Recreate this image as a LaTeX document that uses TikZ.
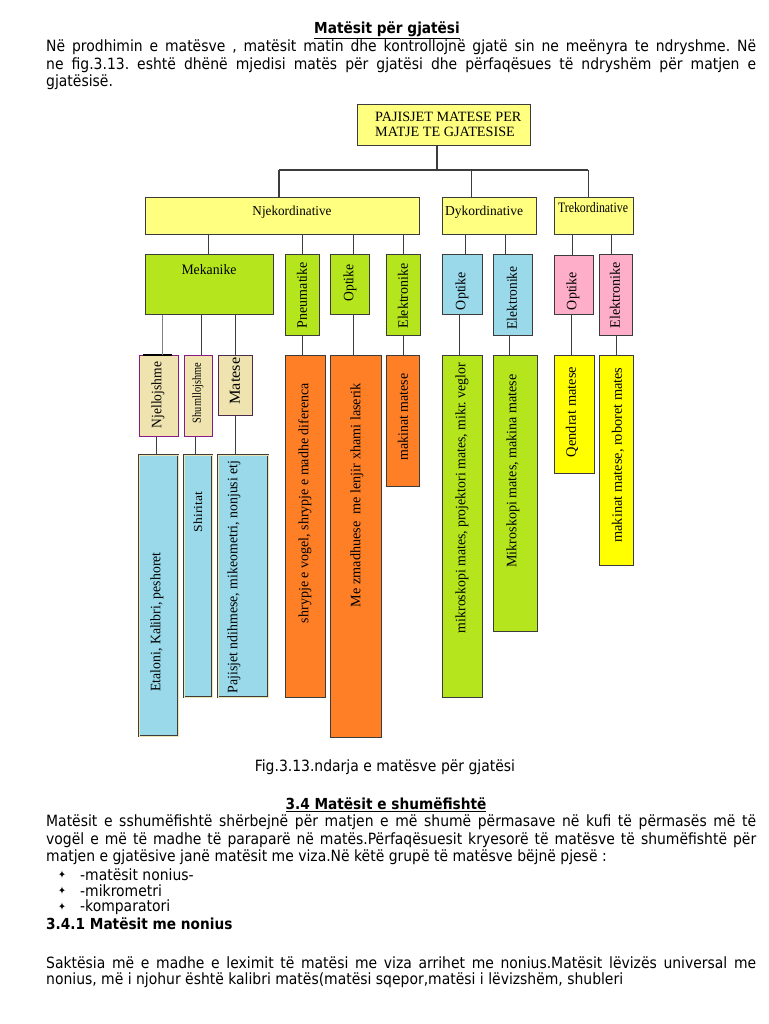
\documentclass[tikz,border=0pt]{standalone}
\usepackage{fontspec}
\setmainfont{Liberation Serif}
\newfontfamily\bodyf{DejaVu Sans Condensed}
\usepackage{graphicx}
\frenchspacing
\definecolor{lyel}{HTML}{FFFF80}
\definecolor{lgreen}{HTML}{B5E61D}
\definecolor{lblue}{HTML}{99D9EA}
\definecolor{lpink}{HTML}{FFAEC9}
\definecolor{lorange}{HTML}{FF7F27}
\definecolor{byel}{HTML}{FFFF00}
\definecolor{lbeige}{HTML}{EFE4B0}
\definecolor{bline}{HTML}{3C3C3C}
\definecolor{mline}{HTML}{8B1A89}
\definecolor{pline}{HTML}{4B2D4B}
\newcommand\bx[6]{\node[#1, minimum width=#5pt, minimum height=#6pt] (#2) at (#3,#4) {};}
\newcommand\vl[6][10]{\node[vtxt] (#2) at (#3,#4) {\resizebox{#5pt}{#1pt}{#6}};}
\newcommand\cn[4][]{\draw[conn,#1] ([xshift=#4pt]#2.north) -- ([xshift=#4pt]#2.north |- #3.south);}
\newcommand\jline[1]{\makebox[710pt][s]{#1}}
\tikzset{
  box/.style={draw=bline, line width=1.1pt, inner sep=0pt, anchor=north west},
  lybox/.style={box, fill=lyel},
  grbox/.style={box, fill=lgreen},
  blbox/.style={box, fill=lblue},
  pkbox/.style={box, fill=lpink},
  orbox/.style={box, fill=lorange},
  yebox/.style={box, fill=byel},
  bgbox/.style={box, fill=lbeige, draw=mline},
  bgbox2/.style={box, fill=lbeige, draw=pline},
  bl2box/.style={box, fill=lblue, line width=0.6pt, double=lbeige, double distance=1pt},
  conn/.style={draw=bline, line width=1.1pt},
  vtxt/.style={rotate=90, inner sep=0pt, font=\fontsize{12}{12}\selectfont},
  htxt/.style={inner sep=0pt, font=\fontsize{12.5}{13}\selectfont},
  body/.style={inner sep=0pt, anchor=west, font=\bodyf\frenchspacing\fontsize{15.5}{17}\selectfont},
  bodyc/.style={inner sep=0pt, font=\bodyf\frenchspacing\fontsize{15.5}{17}\selectfont},
  bodyb/.style={inner sep=0pt, font=\bodyf\bfseries\fontsize{15.2}{17}\selectfont},
  bullet/.style={inner sep=0pt, font=\bodyf\fontsize{10.5}{10}\selectfont}
}
\begin{document}
\begin{tikzpicture}[x=1pt,y=-1pt]
\useasboundingbox[fill=white] (0,0) rectangle (768,1024);
% ---- text above
\node[bodyb] (title) at (387,30) {\underline{Matësit për gjatësi}};
\node[body] (p1a) at (46,47) {\jline{Në prodhimin e matësve , matësit matin dhe kontrollojnë gjatë sin ne meënyra te ndryshme. Në}};
\node[body] (p1b) at (46,65) {\jline{ne fig.3.13. eshtë dhënë mjedisi matës për gjatësi dhe përfaqësues të ndryshëm për matjen e}};
\node[body] (p1c) at (46,82) {gjatësisë.};
% ---- boxes
\bx{lybox}{top}{357}{104}{173}{41}
\bx{lybox}{nj}{145}{197}{274}{37}
\bx{lybox}{dy}{442}{197}{94}{37}
\bx{lybox}{tr}{554}{197}{79}{37}
\bx{grbox}{mek}{145}{254}{128}{60}
\bx{grbox}{pn}{285}{254}{34}{81}
\bx{grbox}{opa}{330}{254}{39}{60}
\bx{grbox}{ela}{386}{254}{34}{81}
\bx{blbox}{opb}{442}{254}{40}{60}
\bx{blbox}{elb}{493}{254}{39}{81}
\bx{pkbox}{opc}{554}{255}{39}{59}
\bx{pkbox}{elc}{599}{254}{33}{81}
\bx{bgbox}{njl}{139}{355}{39}{81}
\bx{bgbox}{shl}{184}{355}{28}{81}
\bx{bgbox2}{mat}{218}{355}{34}{60}
\bx{bl2box}{eta}{139}{455}{39}{281}
\bx{bl2box}{shi}{184}{455}{28}{242}
\bx{bl2box}{paj}{218}{455}{50}{242}
\bx{orbox}{shr}{285}{355}{40}{342}
\bx{orbox}{zma}{330}{355}{51}{382}
\bx{orbox}{mak}{386}{355}{33}{131}
\bx{grbox}{mik}{442}{355}{40}{342}
\bx{grbox}{mikb}{493}{355}{44}{276}
\bx{yebox}{qen}{554}{355}{40}{118}
\bx{yebox}{rob}{599}{355}{34}{210}
\draw[line width=2pt] ([xshift=4pt]njl.north west) -- ([xshift=33pt]njl.north west);
% ---- connectors
\coordinate (b0) at (437,170);
\coordinate (b1) at (279,170);
\coordinate (b3) at (588,170);
\draw[conn] (top.south -| b0) -- (b0);
\draw[conn] (b1) -- (b3);
\draw[conn] (b1) -- (b1 |- nj.north);
\draw[conn] ([xshift=-18pt]dy.north) -- ([xshift=-18pt]dy.north |- b0);
\draw[conn] ([xshift=-5.5pt]tr.north) -- ([xshift=-5.5pt]tr.north |- b0);
\cn{mek}{nj}{-1}
\cn{pn}{nj}{0}
\cn{opa}{nj}{3.5}
\cn{ela}{nj}{0}
\cn{opb}{dy}{3}
\cn{elb}{dy}{-7.5}
\cn{opc}{tr}{-1.5}
\cn{elc}{tr}{-4.5}
\cn[draw=gray]{njl}{mek}{3.5}
\cn{shl}{mek}{3}
\cn{mat}{mek}{0}
\cn{shr}{pn}{-3}
\cn{zma}{opa}{-2.5}
\cn{mak}{ela}{0}
\cn{mik}{opb}{-3}
\cn{mikb}{elb}{-6}
\cn{qen}{opc}{-3}
\cn{rob}{elc}{0}
\cn{eta}{njl}{-2.5}
\cn{shi}{shl}{-3}
\cn{paj}{mat}{-8}
% ---- box texts
\node[htxt, anchor=west, align=left, font=\fontsize{14.2}{15}\selectfont] (ttop) at (375,124.5) {PAJISJET MATESE PER\\MATJE TE GJATESISE};
\node[htxt] (tnj) at (292,212) {\resizebox{79pt}{9.5pt}{Njekordinative}};
\node[htxt] (tdy) at (484,212) {\resizebox{78pt}{9.5pt}{Dykordinative}};
\node[htxt] (ttr) at (593,208) {\resizebox{70pt}{10pt}{Trekordinative}};
\node[htxt] (tmek) at (209,270) {\resizebox{55pt}{10pt}{Mekanike}};
\vl{tpn}{302}{295}{66}{Pneumatike}
\vl{topa}{350}{283}{37}{Optike}
\vl{tela}{403}{296}{65}{Elektronike}
\vl{topb}{462}{291}{38}{Optike}
\vl{telb}{512}{298}{63}{Elektronike}
\vl{topc}{573}{291}{38}{Optike}
\vl{telc}{615}{295}{66}{Elektronike}
\vl{tnjl}{158}{395}{66}{Njellojshme}
\vl[8.5]{tshl}{198}{393}{60}{Shumllojshme}
\vl{tmat}{235}{381}{47}{Matese}
\vl{teta}{157}{622}{139}{Etaloni, Kalibri, peshoret}
\vl[8.5]{tshi}{198}{512}{40}{Shiritat}
\vl{tpaj}{234}{577}{233}{Pajisjet ndihmese, mikeometri, nonjusi etj}
\vl{tshr}{305}{503}{240}{shrypje e vogel, shrypje e madhe diferenca}
\vl{tzma}{357}{495}{224}{Me zmadhuese\ \ me lenjir xhami laserik}
\vl{tmak}{403}{417}{87}{makinat matese}
\vl{tmik}{462}{498}{270}{mikroskopi mates, projektori mates, mikr.\ veglor}
\vl{tmikb}{513}{471}{193}{Mikroskopi mates, makina matese}
\vl{tqen}{572}{412}{90}{Qendrat matese}
\vl{trob}{618}{455}{175}{makinat matese, roboret mates}
% ---- text below
\node[bodyc] (cap) at (385,767) {Fig.3.13.ndarja e matësve për gjatësi};
\node[bodyb] (h34) at (386,805) {\underline{3.4 Matësit e shumëfishtë}};
\node[body] (p2a) at (46,822) {\jline{Matësit e sshumëfishtë shërbejnë për matjen e më shumë përmasave në kufi të përmasës më të}};
\node[body] (p2b) at (46,840) {\jline{vogël e më të madhe të paraparë në matës.Përfaqësuesit kryesorë të matësve të shumëfishtë për}};
\node[body] (p2c) at (46,857) {matjen e gjatësive janë matësit me viza.Në këtë grupë të matësve bëjnë pjesë :};
\node[bullet] (u1) at (62,875) {✦};
\node[body] (b1t) at (80,875) {-matësit nonius-};
\node[bullet] (u2) at (62,891) {✦};
\node[body] (b2t) at (80,891) {-mikrometri};
\node[bullet] (u3) at (62,907) {✦};
\node[body] (b3t) at (80,907) {-komparatori};
\node[bodyb, anchor=west] (h341) at (46,924) {3.4.1 Matësit me nonius};
\node[body] (p3a) at (46,963) {\jline{Saktësia më e madhe e leximit të matësi me viza arrihet me nonius.Matësit lëvizës universal me}};
\node[body] (p3b) at (46,980) {nonius, më i njohur është kalibri matës(matësi sqepor,matësi i lëvizshëm, shubleri};
\end{tikzpicture}
\end{document}
